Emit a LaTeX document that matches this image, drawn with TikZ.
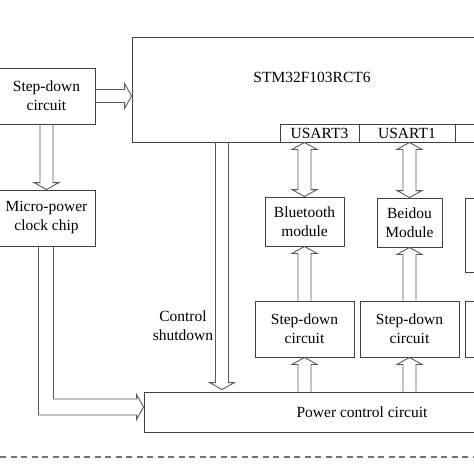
\documentclass[tikz,border=0pt]{standalone}
\usepackage{fontspec}
\setmainfont{Liberation Serif}
\usetikzlibrary{calc}
\tikzset{
  >=latex,
  x=1pt, y=1pt,
}
\tikzstyle{every node}=[font=\fontsize{15.5}{19}\selectfont]
\tikzstyle{box}=[draw=black!75,line width=.9pt,align=center,inner sep=0pt]
\tikzstyle{arrowline}=[draw=black!65,line width=.9pt,line join=miter]
% hollow block arrow, head at the target
\tikzstyle{fat}=[arrowline,to path={
  ($(\tikztostart)!6.5pt!90:(\tikztotarget)$)
  -- ($(\tikztotarget)!7pt!(\tikztostart)!6.5pt!90:(\tikztotarget)$)
  -- ($(\tikztotarget)!7pt!(\tikztostart)!12.5pt!90:(\tikztotarget)$)
  -- (\tikztotarget)
  -- ($(\tikztotarget)!7pt!(\tikztostart)!12.5pt!-90:(\tikztotarget)$)
  -- ($(\tikztotarget)!7pt!(\tikztostart)!6.5pt!-90:(\tikztotarget)$)
  -- ($(\tikztostart)!6.5pt!-90:(\tikztotarget)$)}]
% hollow block arrow, heads at both ends
\tikzstyle{fatboth}=[arrowline,to path={
  (\tikztotarget)
  -- ($(\tikztotarget)!7pt!(\tikztostart)!12.5pt!90:(\tikztotarget)$)
  -- ($(\tikztotarget)!7pt!(\tikztostart)!6.5pt!90:(\tikztotarget)$)
  -- ($(\tikztostart)!7pt!(\tikztotarget)!6.5pt!-90:(\tikztostart)$)
  -- ($(\tikztostart)!7pt!(\tikztotarget)!12.5pt!-90:(\tikztostart)$)
  -- (\tikztostart)
  -- ($(\tikztostart)!7pt!(\tikztotarget)!12.5pt!90:(\tikztostart)$)
  -- ($(\tikztostart)!7pt!(\tikztotarget)!6.5pt!90:(\tikztostart)$)
  -- ($(\tikztotarget)!7pt!(\tikztostart)!6.5pt!-90:(\tikztotarget)$)
  -- ($(\tikztotarget)!7pt!(\tikztostart)!12.5pt!-90:(\tikztotarget)$)
  -- cycle}]

\begin{document}
\begin{tikzpicture}
    \useasboundingbox (0,0) rectangle (474,-474);
    \clip (0,0) rectangle (474,-474);
    % left column
    \node[box,minimum width=97pt,minimum height=56pt] (sdmain) at (46.5,-96) {Step-down\\circuit};
    \node[box,minimum width=97pt,minimum height=56pt] (mc) at (46.5,-218) {Micro-power\\clock chip};
    % controller
    \node[box,minimum width=360pt,minimum height=105pt] (stm) at (312,-89.5) {};
    \node (stmname) at (312,-77) {STM32F103RCT6};
    \node[box,minimum width=79pt,minimum height=18pt] (us3) at (319.5,-133) {USART3};
    \node[box,minimum width=96pt,minimum height=18pt] (us1) at (407,-133) {USART1};
    \node[box,minimum width=80pt,minimum height=18pt] (usx) at (495,-133) {};
    % modules
    \node[box,minimum width=79pt,minimum height=49pt] (bt) at (304.5,-221.5) {Bluetooth\\module};
    \node[box,minimum width=65pt,minimum height=49pt] (bd) at (409.5,-222.5) {Beidou\\Module};
    \node[box,minimum width=80pt,minimum height=74pt] (xm) at (505,-235) {};
    \node[box,minimum width=99pt,minimum height=56pt] (sdbt) at (304.5,-329) {Step-down\\circuit};
    \node[box,minimum width=99pt,minimum height=56pt] (sdbd) at (409.5,-329) {Step-down\\circuit};
    \node[box,minimum width=100pt,minimum height=56pt] (sdx) at (515,-329) {};
    \node[box,minimum width=436pt,minimum height=40pt] (pc) at (362,-412) {Power control circuit};
    \node[align=center,inner sep=0pt] (cs) at (183,-326) {Control\\shutdown};
    \coordinate (shut) at (222,-142);
    \coordinate (pin) at ($(pc.west)+(0,5)$);
    % block arrows
    \draw[fat] (sdmain.east) to (sdmain.east -| stm.west);
    \draw[fat] (sdmain.south) to (mc.north);
    \draw[fatboth] (us3.south -| bt.north) to (bt.north);
    \draw[fatboth] (us1.south -| bd.north) to (bd.north);
    \draw[fat] (sdbt.north) to (bt.south);
    \draw[fat] (sdbd.north) to (bd.south);
    \draw[fat] (pc.north -| sdbt.south) to (sdbt.south);
    \draw[fat] (pc.north -| sdbd.south) to (sdbd.south);
    \draw[fat] (shut) to ($(shut |- pc.north)+(0,2)$);
    \draw[arrowline] ([xshift=-8pt]mc.south) |- ([xshift=-7pt,yshift=-8pt]pin)
      -- ([xshift=-7pt,yshift=-12.5pt]pin) -- (pin)
      -- ([xshift=-7pt,yshift=12.5pt]pin) -- ([xshift=-7pt,yshift=8pt]pin)
      -| ([xshift=7pt]mc.south);
    \draw[black!55,line width=1.2pt,dash pattern=on 6pt off 4.5pt] (0,-457)--(474,-457);
  \end{tikzpicture}
\end{document}
